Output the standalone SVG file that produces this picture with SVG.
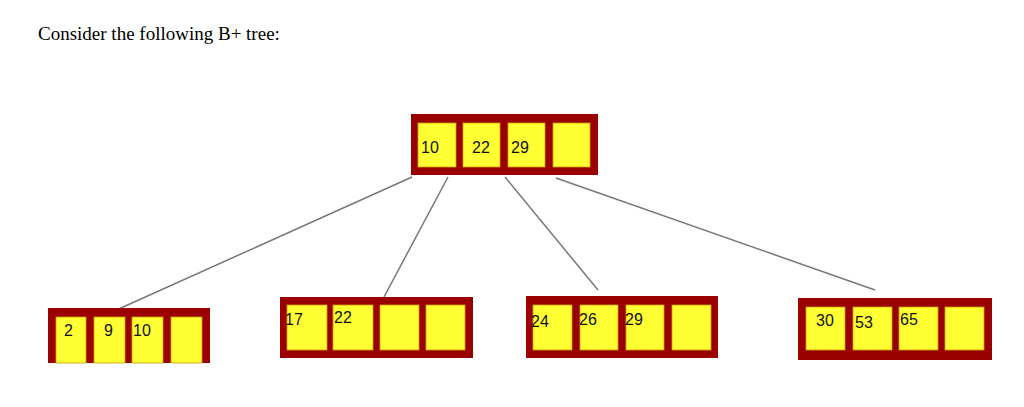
<svg xmlns="http://www.w3.org/2000/svg" width="1024" height="407" viewBox="0 0 1024 407">
<style>
.o{fill:#9a0000}
.c{fill:#ffff33;stroke:#c8a000;stroke-width:0.8}
.t{font-family:"Liberation Sans",Arial,sans-serif;font-size:16px;fill:#111}
.e{stroke:#777;stroke-width:1.5;fill:none}
</style>
<rect width="1024" height="407" fill="#fff"/>
<text x="38" y="40" font-family="Liberation Serif,serif" font-size="19" fill="#000">Consider the following B+ tree:</text>
<g id="connectors">
<line class="e" x1="412" y1="177" x2="112" y2="312"/>
<line class="e" x1="448" y1="177" x2="384" y2="297"/>
<line class="e" x1="505" y1="177" x2="598" y2="290"/>
<line class="e" x1="556" y1="178" x2="875" y2="290"/>
</g>
<g id="root">
<rect class="o" x="411" y="114" width="187" height="61"/>
<rect class="c" x="418" y="123" width="38" height="44"/><rect class="c" x="463" y="123" width="37" height="44"/><rect class="c" x="508" y="123" width="37" height="44"/><rect class="c" x="553" y="123" width="37" height="44"/>
<text class="t" x="421" y="153">10</text><text class="t" x="472" y="153">22</text><text class="t" x="511" y="153">29</text>
</g>
<g id="leaf1">
<rect class="o" x="48" y="308" width="162" height="55"/>
<rect class="c" x="56" y="317" width="30" height="46"/><rect class="c" x="94" y="317" width="31" height="46"/><rect class="c" x="132" y="317" width="31" height="46"/><rect class="c" x="171" y="317" width="31" height="46"/>
<text class="t" x="64" y="336">2</text><text class="t" x="104" y="336">9</text><text class="t" x="133" y="336">10</text>
</g>
<g id="leaf2">
<rect class="o" x="280" y="297" width="193" height="61"/>
<rect class="c" x="287" y="305" width="40" height="45"/><rect class="c" x="333" y="305" width="40" height="45"/><rect class="c" x="380" y="305" width="39" height="45"/><rect class="c" x="426" y="305" width="39" height="45"/>
<text class="t" x="285" y="325">17</text><text class="t" x="334" y="323">22</text>
</g>
<g id="leaf3">
<rect class="o" x="526" y="296" width="192" height="62"/>
<rect class="c" x="533" y="305" width="39" height="45"/><rect class="c" x="580" y="305" width="38" height="45"/><rect class="c" x="626" y="305" width="38" height="45"/><rect class="c" x="672" y="305" width="39" height="45"/>
<text class="t" x="531" y="327">24</text><text class="t" x="579" y="325">26</text><text class="t" x="625" y="325">29</text>
</g>
<g id="leaf4">
<rect class="o" x="798" y="298" width="194" height="62"/>
<rect class="c" x="806" y="307" width="39" height="43"/><rect class="c" x="853" y="307" width="39" height="43"/><rect class="c" x="899" y="307" width="39" height="43"/><rect class="c" x="945" y="307" width="39" height="43"/>
<text class="t" x="816" y="326">30</text><text class="t" x="855" y="328">53</text><text class="t" x="900" y="325">65</text>
</g>
</svg>
